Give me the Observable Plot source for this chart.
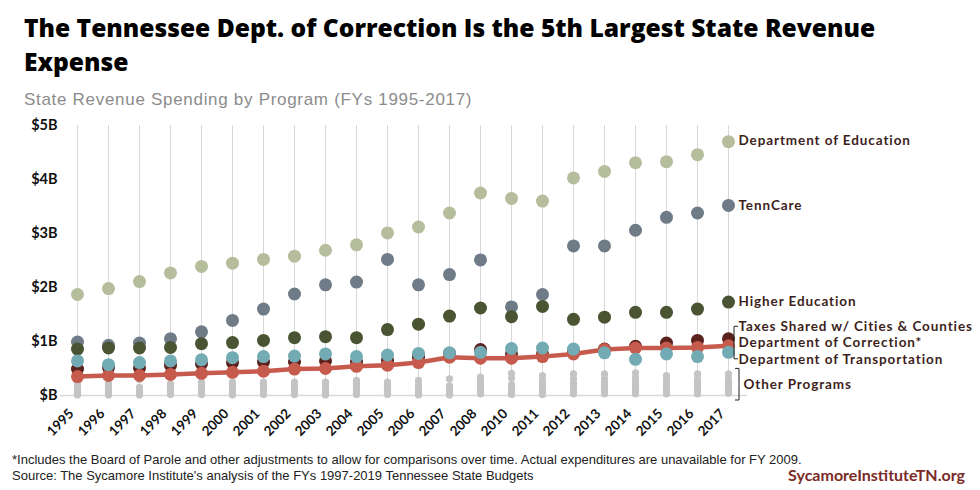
<!DOCTYPE html>
<html><head><meta charset="utf-8">
<script src="https://cdn.jsdelivr.net/npm/d3@7"></script>
<script src="https://cdn.jsdelivr.net/npm/@observablehq/plot@0.6"></script>
<style>
body{margin:0;width:980px;height:490px;overflow:hidden;background:#fff;position:relative;font-family:Lato,sans-serif}
.title{position:absolute;left:24px;font:800 24.6px/25px "Open Sans",sans-serif;color:#000;white-space:nowrap}
#t1{top:15px}
#t2{top:49px}
#subtitle{position:absolute;left:24px;top:90px;font:17px/20px "Liberation Sans",Arial,sans-serif;color:#8c8c8c;letter-spacing:0.7px}
#chart{position:absolute;left:0;top:112px}
#chart svg g[aria-label="text"] text{letter-spacing:0.9px}
#note{position:absolute;left:12px;top:452px;font:13px/16px "Liberation Sans Narrow","Arial Narrow","Liberation Sans",sans-serif;color:#222}
#brand{position:absolute;right:15px;top:465px;font:bold 16px Lato,sans-serif;color:#7b2b26}
</style></head><body>
<div class="title" id="t1">The Tennessee Dept. of Correction Is the 5th Largest State Revenue</div>
<div class="title" id="t2">Expense</div>
<div id="subtitle">State Revenue Spending by Program (FYs 1995-2017)</div>
<div id="chart"></div>
<div id="note">*Includes the Board of Parole and other adjustments to allow for comparisons over time. Actual expenditures are unavailable for FY 2009.<br>Source: The Sycamore Institute's analysis of the FYs 1997-2019 Tennessee State Budgets</div>
<div id="brand">SycamoreInstituteTN.org</div>
<script>
const years = ["1995","1996","1997","1998","1999","2000","2001","2002","2003","2004","2005","2006","2007","2008","2010","2011","2012","2013","2014","2015","2016","2017"];
const yTicks = [0,1,2,3,4,5];
const seriesNames = ["Department of Education","TennCare","Higher Education","Taxes Shared w/ Cities & Counties","Department of Correction*","Department of Transportation"];
const otherLabel = "Other Programs";
// $ billions
const education  = [1.87,1.98,2.11,2.27,2.39,2.45,2.52,2.58,2.69,2.79,3.01,3.12,3.38,3.75,3.65,3.60,4.03,4.15,4.31,4.33,4.46,4.70];
const tenncare   = [0.99,0.93,0.97,1.05,1.18,1.39,1.60,1.88,2.05,2.10,2.52,2.05,2.24,2.51,1.64,1.87,2.77,2.77,3.06,3.30,3.38,3.52];
const higherEd   = [0.86,0.88,0.88,0.89,0.96,0.98,1.02,1.07,1.09,1.07,1.22,1.32,1.47,1.62,1.46,1.65,1.41,1.45,1.54,1.54,1.60,1.73];
const taxesShared= [0.49,0.52,0.51,0.56,0.59,0.61,0.62,0.62,0.64,0.62,0.65,0.71,0.78,0.85,0.77,0.77,0.80,0.86,0.91,0.97,1.02,1.05];
const correction = [0.35,0.37,0.37,0.39,0.41,0.43,0.45,0.49,0.50,0.54,0.56,0.61,0.71,0.69,0.69,0.72,0.77,0.85,0.88,0.88,0.89,0.92];
const transport  = [0.64,0.57,0.61,0.64,0.66,0.70,0.72,0.73,0.77,0.72,0.75,0.78,0.79,0.80,0.87,0.88,0.86,0.79,0.67,0.77,0.72,0.80];
const other1 = [0.22,0.22,0.30,0.22,0.25,0.25,0.25,0.25,0.25,0.28,0.25,0.28,0.31,0.34,0.41,0.37,0.40,0.40,0.42,0.37,0.40,0.40];
const other2 = [0.18,0.19,0.15,0.19,0.20,0.21,0.21,0.18,0.20,0.22,0.21,0.20,0.18,0.29,0.32,0.28,0.31,0.31,0.33,0.30,0.31,0.31];
const other3 = [0.15,0.15,0.12,0.15,0.16,0.16,0.17,0.15,0.16,0.17,0.17,0.16,0.15,0.23,0.20,0.21,0.23,0.24,0.27,0.24,0.25,0.25];
const other4 = [0.11,0.11,0.09,0.11,0.12,0.12,0.12,0.11,0.12,0.13,0.12,0.12,0.11,0.17,0.14,0.16,0.17,0.18,0.20,0.18,0.19,0.19];
const other5 = [0.08,0.07,0.06,0.08,0.08,0.08,0.09,0.08,0.08,0.09,0.08,0.08,0.08,0.12,0.10,0.11,0.12,0.13,0.14,0.13,0.13,0.14];
const other6 = [0.04,0.04,0.03,0.05,0.05,0.04,0.05,0.05,0.04,0.05,0.05,0.04,0.04,0.07,0.06,0.06,0.07,0.08,0.08,0.08,0.08,0.09];
const other7 = [0.01,0.01,0.01,0.02,0.02,0.01,0.02,0.02,0.01,0.02,0.02,0.01,0.01,0.03,0.02,0.02,0.03,0.03,0.03,0.03,0.03,0.04];

const seriesValues = [education, tenncare, higherEd, taxesShared, correction, transport];
const colors = ["#b6bd9c","#6f7b87","#4a5433","#5a211d","#c65b4d","#72abb4"];
const labelDy = [-1, 0, 0, -12, -3, 7];
const others = [other1,other2,other3,other4,other5,other6,other7];

const rows = (vals, name) => vals.map((v,i) => ({year: years[i], value: v, name}));
const otherRows = others.flatMap((o,k) => rows(o, "other"+k));
const last = years[years.length-1];
const lastIdx = years.length-1;
const labelStyle = {textAnchor:"start", fontSize:13.5, fontWeight:"bold", fill:"#3d1f1c"};

const marks = [
  Plot.gridX({stroke:"#d8d8d8", strokeOpacity:1}),
  Plot.ruleY([0], {stroke:"#d9d9d9", strokeWidth:1.5, insetLeft:-10, insetRight:-12}),
  Plot.axisY({ticks: yTicks, tickSize:0, tickPadding:13, fontSize:14.5, fontWeight:"bold", fill:"#111", label:null,
    tickFormat: d => d === 0 ? "$B" : `$${d}B`}),
  Plot.axisX({tickRotate:-45, tickSize:0, tickPadding:14, dx:-6, dy:2, fontSize:13.5, fontWeight:"bold", fill:"#111", label:null}),
  Plot.dot(otherRows, {x:"year", y:"value", r:3.6, fill:"#c4c4c4"})
];
for (let k = 0; k < seriesValues.length; k++) {
  const data = rows(seriesValues[k], seriesNames[k]);
  if (k === 4) marks.push(Plot.line(data, {x:"year", y:"value", stroke:colors[k], strokeWidth:4.5}));
  marks.push(Plot.dot(data, {x:"year", y:"value", r:6.5, fill:colors[k]}));
}
seriesNames.forEach((n,k) => {
  marks.push(Plot.text([{year:last, value:seriesValues[k][lastIdx]}], {x:"year", y:"value", text:() => n,
    dx:10, dy:labelDy[k], ...labelStyle}));
});
const otherTop = d3.max(others, o => o[lastIdx]);
marks.push(Plot.text([{year:last, value:otherTop/2}], {x:"year", y:"value", text:() => otherLabel,
  dx:15, dy:0, ...labelStyle}));

const plot = Plot.plot({
  width: 980, height: 335,
  marginLeft: 70, marginRight: 245, marginTop: 13, marginBottom: 52,
  x: {type:"point", domain: years, padding: 0, axis: null},
  y: {domain: [0,5], axis: null},
  style: {fontFamily: "Lato, sans-serif", background: "#fff", overflow: "visible"},
  marks
});
// brackets drawn through the plot's own scales
const sx = plot.scale("x"), sy = plot.scale("y");
const x0 = sx.apply(last);
const g = d3.select(plot).append("g").attr("fill","none").attr("stroke","#222").attr("stroke-width",1);
const yT = sy.apply(taxesShared[lastIdx]) - 12, yB = sy.apply(transport[lastIdx]) + 7;
g.append("path").attr("d", `M${x0+10},${yT}H${x0+6}V${yB}H${x0+10}`);
const yO1 = sy.apply(otherTop) - 5, yO2 = sy.apply(0) + 5;
g.append("path").attr("d", `M${x0+7},${yO1}H${x0+11}V${yO2}H${x0+7}`);
document.getElementById("chart").appendChild(plot);
</script>
</body></html>
